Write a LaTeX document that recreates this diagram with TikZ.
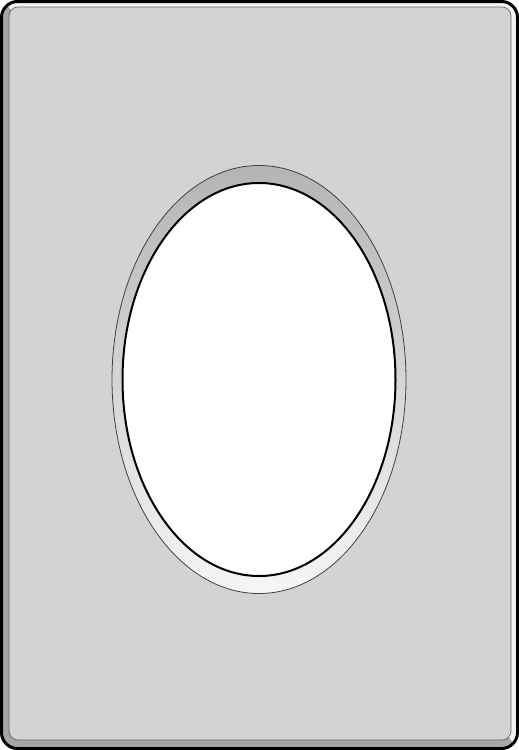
\documentclass[tikz,border=0pt]{standalone}
\begin{document}
\begin{tikzpicture}[x=1pt,y=-1pt,
  plateline/.style={draw=black,line width=3pt},
  innerline/.style={draw=black!60,line width=0.7pt},
  holeline/.style={draw=black,line width=2pt},
  bevelline/.style={draw=black!75,line width=0.8pt}]
\definecolor{plate}{HTML}{D3D3D3}
\definecolor{bevdark}{HTML}{A6A6A6}
\definecolor{bevlight}{HTML}{F2F2F2}
\definecolor{ovtop}{HTML}{B4B4B4}
\definecolor{ovbot}{HTML}{F6F6F6}
\useasboundingbox (0,0) rectangle (519,750);
% plate edge bevel
\begin{scope}
  \clip[rounded corners=16pt] (1.5,1.5) rectangle (517.5,748.5);
  \fill[bevdark] (0,0) rectangle (519,750);
  \fill[bevlight] (0,0) -- (519,0) -- (519,750) -- (511,740) -- (9,7) -- cycle;
\end{scope}
% plate face
\filldraw[fill=plate,innerline,rounded corners=9pt] (9,7) rectangle (511,740);
% outer plate outline
\draw[plateline,rounded corners=16pt] (1.5,1.5) rectangle (517.5,748.5);
% oval bevel
\shade[top color=ovtop,bottom color=ovbot] (259,379.5) ellipse [x radius=147,y radius=214];
\draw[bevelline] (259,379.5) ellipse [x radius=147,y radius=214];
% hole
\filldraw[fill=white,holeline] (259,379.5) ellipse [x radius=136.5,y radius=196.5];
\end{tikzpicture}
\end{document}
